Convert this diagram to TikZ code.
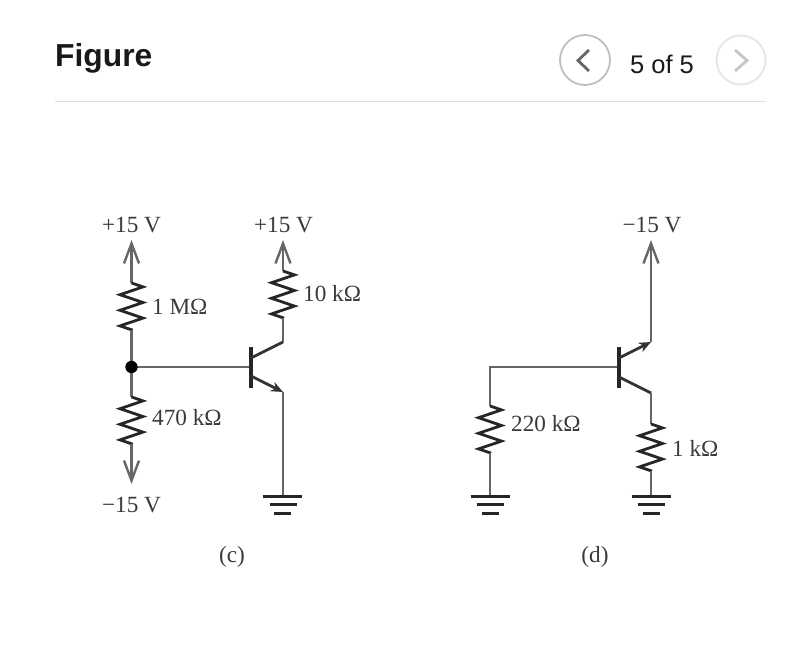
\documentclass[tikz,border=0pt]{standalone}
\usepackage{fontspec}
\setmainfont{Liberation Serif}
\newfontfamily\uifont{Liberation Sans}
\usetikzlibrary{arrows.meta,decorations.pathmorphing}
\definecolor{wirecol}{HTML}{666666}
\definecolor{textcol}{HTML}{3A3A3A}
\tikzset{
  x=1pt, y=-1pt,
  wire/.style={draw=wirecol, line width=2.4pt},
  lead/.style={draw=black!80, line width=2.8pt},
  bar/.style={draw=black!85, line width=3.4pt},
  res/.style={draw=black!85, line width=2.8pt, decorate,
    decoration={zigzag, amplitude=11.5pt, segment length=15.6pt}},
  supply/.style={-{Straight Barb[length=20pt,width=15pt]}},
  gnd/.style={draw=black!85, line width=3pt},
  lab/.style={text=textcol, inner sep=0pt, font=\fontsize{23.2}{26}\selectfont},
  ltab/.style={lab, anchor=west},
  ui/.style={inner sep=0pt, text=black!90},
}

\begin{document}
\begin{tikzpicture}
        \useasboundingbox (0,0) rectangle (788,668);

        % page header
        \node (title) [ui, anchor=west, font=\uifont\bfseries\fontsize{31.8}{34}\selectfont] at (55,58) {Figure};
        \node (count) [ui, font=\uifont\fontsize{25.5}{28}\selectfont] at (662,64) {5 of 5};
        \node (prev) [circle, draw=black!25, line width=1.8pt, minimum size=50pt, inner sep=0pt] at (585,60) {};
        \node (next) [circle, draw=black!10, line width=1.8pt, minimum size=49pt, inner sep=0pt] at (741,60) {};
        \draw[draw=black!60, line width=2.8pt] (589,50) -- (578,60.5) -- (589,71);
        \draw[draw=black!22, line width=2.8pt] (735,50) -- (747,60.5) -- (735,71);
        \coordinate (ruleL) at (55,101.5);
        \coordinate (ruleR) at (766,101.5);
        \draw[draw=black!13, line width=1.6pt] (ruleL) -- (ruleR);

        % circuit (c)
        \coordinate (cTop) at (131.5,240);
        \coordinate (cR1a) at (131.5,283);
        \coordinate (cR1b) at (131.5,330);
        \coordinate (cJoin) at (131.5,367);
        \coordinate (cR2a) at (131.5,397);
        \coordinate (cR2b) at (131.5,444);
        \coordinate (cBot) at (131.5,484);
        \coordinate (cColTop) at (283,240);
        \coordinate (cR3a) at (283,271);
        \coordinate (cR3b) at (283,318);
        \coordinate (cC) at (283,342);
        \coordinate (cCb) at (251,358);
        \coordinate (cB) at (251,367);
        \coordinate (cBa) at (251,347);
        \coordinate (cBz) at (251,388);
        \coordinate (cEb) at (251,376);
        \coordinate (cE) at (283,392);
        \coordinate (cGnd) at (283,497);

        \draw[wire, supply] (cR1a) -- (cTop);
        \draw[res] (cR1a) -- (cR1b);
        \draw[wire] (cR1b) -- (cJoin);
        \draw[wire] (cJoin) -- (cR2a);
        \draw[res] (cR2a) -- (cR2b);
        \draw[wire, supply] (cR2b) -- (cBot);
        \draw[wire] (cJoin) -- (cB);
        \fill[black] (cJoin) circle (6.2pt);

        \draw[wire, supply] (cR3a) -- (cColTop);
        \draw[res] (cR3a) -- (cR3b);
        \draw[wire] (cR3b) -- (cC);
        \draw[bar] (cBa) -- (cBz);
        \draw[lead] (cCb) -- (cC);
        \draw[lead, -{Stealth[length=12pt,width=10pt]}] (cEb) -- (cE);
        \draw[wire] (cE) -- (cGnd);
        \draw[gnd] (263,497) -- (302,497);
        \draw[gnd] (270,505) -- (297,505);
        \draw[gnd] (274,513) -- (291,513);

        \node (cV1) [lab] at (131.5,225) {+15 V};
        \node (cV2) [lab] at (283.5,225) {+15 V};
        \node (cV3) [lab] at (131.5,505) {−15 V};
        \node (cL1) [ltab] at (152,306.5) {1 MΩ};
        \node (cL2) [ltab] at (303,293.5) {10 kΩ};
        \node (cL3) [ltab] at (152,417.5) {470 kΩ};
        \node (cCap) [lab] at (232,557) {(c)};

        % circuit (d)
        \coordinate (dBase) at (490,367);
        \coordinate (dR1a) at (490,406);
        \coordinate (dR1b) at (490,453);
        \coordinate (dGndL) at (490,497);
        \coordinate (dB) at (619,367);
        \coordinate (dBa) at (619,347);
        \coordinate (dBz) at (619,388);
        \coordinate (dEb) at (619,358);
        \coordinate (dE) at (651,342);
        \coordinate (dTop) at (651,240);
        \coordinate (dCb) at (619,377);
        \coordinate (dC) at (651,393);
        \coordinate (dR2a) at (651,424);
        \coordinate (dR2b) at (651,471);
        \coordinate (dGndR) at (651,497);

        \draw[wire] (dR1a) -- (dBase) -- (dB);
        \draw[res] (dR1a) -- (dR1b);
        \draw[wire] (dR1b) -- (dGndL);
        \draw[bar] (dBa) -- (dBz);
        \draw[lead, -{Stealth[length=12pt,width=10pt]}] (dEb) -- (dE);
        \draw[wire, supply] (dE) -- (dTop);
        \draw[lead] (dCb) -- (dC);
        \draw[wire] (dC) -- (dR2a);
        \draw[res] (dR2a) -- (dR2b);
        \draw[wire] (dR2b) -- (dGndR);
        \foreach \gx in {490,651} {
          \draw[gnd] (\gx-19.5,497) -- (\gx+19.5,497);
          \draw[gnd] (\gx-13.5,505) -- (\gx+13.5,505);
          \draw[gnd] (\gx-8.5,513) -- (\gx+8.5,513);
        }

        \node (dV1) [lab] at (652,225) {−15 V};
        \node (dL1) [ltab] at (511,423.5) {220 kΩ};
        \node (dL2) [ltab] at (672,448.5) {1 kΩ};
        \node (dCap) [lab] at (595,557) {(d)};
      \end{tikzpicture}
\end{document}
